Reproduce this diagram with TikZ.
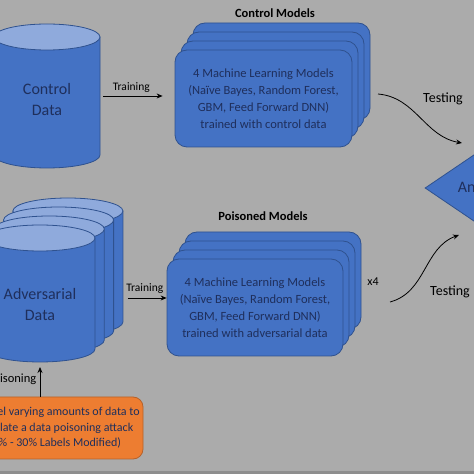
\documentclass[tikz,border=0pt]{standalone}
\usepackage{fontspec}
\setmainfont{Carlito}
\usetikzlibrary{shapes.geometric,arrows.meta,positioning}

\definecolor{bggray}{HTML}{ABABAB}
\definecolor{edgegray}{HTML}{8E8E8E}
\definecolor{boxblue}{HTML}{4472C4}
\definecolor{lineblue}{HTML}{2F528F}
\definecolor{topblue}{HTML}{8FAADC}
\definecolor{txtblue}{HTML}{1F2F5C}
\definecolor{boxorange}{HTML}{ED7D31}
\definecolor{lineorange}{HTML}{B5612A}

% data store: centre x, centre y, x radius, half height
\newcommand{\datastore}[4]{%
  \filldraw[draw=lineblue, line width=0.8pt, fill=boxblue]
    (#1-#3,#2+#4-13) -- (#1-#3,#2-#4+13)
    arc[start angle=180, end angle=360, x radius=#3, y radius=13]
    -- (#1+#3,#2+#4-13) -- cycle;
  \filldraw[draw=lineblue, line width=0.8pt, fill=topblue]
    (#1,#2+#4-13) ellipse[x radius=#3, y radius=13];
}

\begin{document}
\begin{tikzpicture}[x=1pt,y=1pt,
  dbhold/.style={rectangle, inner sep=0pt, outer sep=0pt},
  cyltext/.style={text=txtblue, font=\fontsize{16}{21}\selectfont, align=center},
  model/.style={rectangle, rounded corners=12pt, draw=lineblue, line width=0.8pt, fill=boxblue,
    minimum width=177pt, minimum height=97pt, text=txtblue,
    font=\fontsize{12.5}{17}\selectfont, align=center},
  poison/.style={rectangle, rounded corners=10pt, draw=lineorange, line width=0.8pt, fill=boxorange,
    minimum width=174pt, minimum height=62pt, text=txtblue,
    font=\fontsize{12}{15.5}\selectfont, align=center},
  flow/.style={-{Stealth[length=6pt,width=5pt]}, black, line width=0.8pt},
  lbl/.style={font=\fontsize{11.5}{14}\selectfont, text=black},
  tlbl/.style={font=\fontsize{14}{17}\selectfont, text=black},
  title/.style={font=\fontsize{12.5}{15}\selectfont\bfseries, text=black}]

  \useasboundingbox (0,0) rectangle (474,474);
  \clip (0,0) rectangle (474,474);
  \fill[bggray] (0,0) rectangle (474,474);
  \fill[edgegray] (0,0) rectangle (474,3);

  % control branch
  \datastore{47}{378}{53}{72}
  \node[dbhold, minimum width=106pt, minimum height=144pt] (cd) at (47,378) {};
  \node[cyltext] (cdtext) at (47,374) {Control\\Data};

  \draw (275,461) node[title] {Control Models};
  \foreach \k in {3,2,1}
    \node[model] at (263.5+6*\k,375.5+9*\k) {};
  \node[model] (cm) at (263.5,375.5) {
    4 Machine Learning Models\\
    (Naïve Bayes, Random Forest,\\
    GBM, Feed Forward DNN)\\
    trained with control data};

  \draw[flow, shorten <=3pt, shorten >=12pt] (cd.east) -- (cd.east -| cm.west)
    node[lbl, above, midway, xshift=-6pt] {Training};

  % poisoned branch
  \foreach \k in {3,2,1}{
    \datastore{40+9.3*\k}{180.5+9*\k}{55}{68.5}
    \node[dbhold, minimum width=110pt, minimum height=137pt] (ad\k) at (40+9.3*\k,180.5+9*\k) {};
  }
  \datastore{40}{180.5}{55}{68.5}
  \node[dbhold, minimum width=110pt, minimum height=137pt] (ad) at (40,180.5) {};
  \node[cyltext] (adtext) at (40,169) {Adversarial\\Data};

  \draw (263,258) node[title] {Poisoned Models};
  \foreach \k in {3,2,1}
    \node[model, minimum width=176pt] at (255+6*\k,166.5+9*\k) {};
  \node[model, minimum width=176pt] (pm) at (255,166.5) {
    4 Machine Learning Models\\
    (Naïve Bayes, Random Forest,\\
    GBM, Feed Forward DNN)\\
    trained with adversarial data};
  \draw (373,192) node[lbl, font=\fontsize{12}{14}\selectfont] {x4};

  \coordinate (trin) at ([yshift=9.5pt]pm.west);
  \draw[flow, shorten <=5pt] (trin -| ad3.east) -- (trin)
    node[lbl, above, midway, yshift=1pt] {Training};

  \node[poison] (pz) at (55,46) {
    Relabel varying amounts of data to\\
    simulate a data poisoning attack\\
    (5\% - 30\% Labels Modified)};
  \draw[flow, shorten >=5pt] (ad.south |- pz.north) -- (ad.south)
    node[lbl, font=\fontsize{12.5}{15}\selectfont, left, midway] {Poisoning};

  % analysis
  \node[diamond, aspect=1.475, draw=lineblue, line width=0.8pt, fill=boxblue, text=txtblue,
    minimum width=118pt, minimum height=80pt, inner sep=0pt,
    font=\fontsize{16}{19}\selectfont] (an) at (484,286) {Analysis};

  \coordinate (ts1) at (378,380);
  \coordinate (te1) at (462,331);
  \draw[flow] (ts1) to[out=-5,in=170] (te1);
  \draw (443,375) node[tlbl] {Testing};

  \coordinate (ts2) at (390,172);
  \coordinate (te2) at (459,239);
  \draw[flow] (ts2) to[out=15,in=200] (te2);
  \draw (450,182) node[tlbl] {Testing};

\end{tikzpicture}
\end{document}
